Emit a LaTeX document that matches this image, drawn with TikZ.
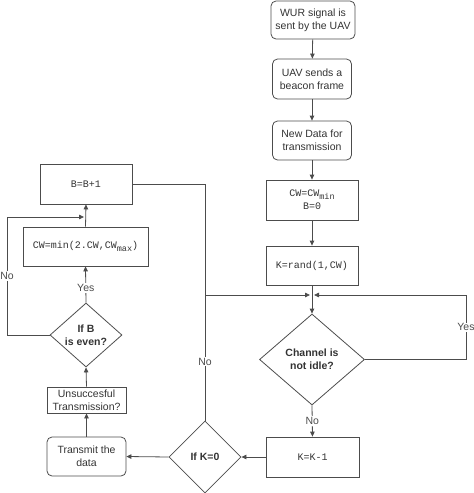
\documentclass[tikz,border=0pt]{standalone}
\usepackage{fontspec}
\setmainfont{Liberation Sans}
\setmonofont{Liberation Mono}
\usetikzlibrary{arrows.meta,shapes.geometric}
\newcommand{\mysub}[1]{\raisebox{-2.5pt}{\fontsize{8.5}{10}\selectfont #1}}
\begin{document}
\begin{tikzpicture}[x=1pt,y=-1pt,
  base/.style={draw=black!70, line width=0.8pt, align=center, inner sep=0pt, text=black!80, font=\fontsize{10.5}{13}\selectfont},
  rbox/.style={base, rounded corners=5pt},
  sbox/.style={base},
  code/.style={base, font=\fontsize{10}{13}\selectfont\ttfamily},
  dia/.style={base, diamond, font=\fontsize{10.5}{13}\selectfont\bfseries},
  conn/.style={draw=black!70, line width=0.8pt},
  arr/.style={conn, -{Triangle[length=5pt,width=4.5pt]}},
  lab/.style={fill=white, inner sep=1pt, text=black!70, font=\fontsize{10.5}{13}\selectfont}
]
\useasboundingbox (0,0) rectangle (474,493);

% right column
\node[rbox, minimum width=84pt, minimum height=38pt] (wur) at (313,20) {WUR signal is\\sent by the UAV};
\node[rbox, minimum width=79pt, minimum height=40pt] (uav) at (312,79) {UAV sends a\\beacon frame};
\node[rbox, minimum width=79pt, minimum height=39pt] (newd) at (312,140.5) {New Data for\\transmission};
\node[code, minimum width=92pt, minimum height=40pt] (cw0) at (312,200) {CW=CW\mysub{min}\\B=0};
\node[code, minimum width=92pt, minimum height=39pt] (krand) at (312,265.5) {K=rand(1,CW)};
\node[dia, minimum width=105pt, minimum height=91pt] (chan) at (312,359.5) {Channel is\\not idle?};
\node[code, minimum width=93pt, minimum height=40pt] (kk1) at (312.5,457) {K=K-1};
\node[dia, minimum width=72pt, minimum height=72pt] (ifk) at (205,457) {If K=0};

% left column
\node[rbox, minimum width=79pt, minimum height=39pt] (trans) at (86.5,456.5) {Transmit the\\data};
\node[sbox, minimum width=79pt, minimum height=26pt] (unsucc) at (86.5,400) {Unsuccesful\\Transmission?};
\node[dia, minimum width=72pt, minimum height=64pt] (ifb) at (86,335) {If B\\is even?};
\node[code, minimum width=125pt, minimum height=39pt] (cwmin) at (85.5,246.5) {CW=min(2.CW,CW\mysub{max})};
\node[code, minimum width=92pt, minimum height=40pt] (bb1) at (86,184) {B=B+1};

% helper coordinates
\coordinate (jl) at (310,295);
\coordinate (jr) at (314,295);
\coordinate (yesc) at (466,295);
\coordinate (kup) at (205,295);
\coordinate (bcorner) at (205,184);
\coordinate (nocorner) at (7,217);
\coordinate (noend) at (84,217);

% connectors
\draw[arr] (wur) -- (uav);
\draw[arr] (uav) -- (newd);
\draw[arr] (newd) -- (cw0);
\draw[arr] (cw0) -- (krand);
\draw[arr] (krand) -- (chan.north);
\draw[conn] (chan.east) -| (yesc) node[lab, pos=0.75] {Yes};
\draw[arr] (yesc) -- (jr);
\draw[arr] (chan.south) -- (kk1.north) node[lab, midway] {No};
\draw[arr] (kk1.west) -- (ifk.east);
\draw[arr] (ifk.west) -- (trans.east);
\draw[conn] (ifk.north) -- (kup) node[lab, pos=0.47] {No};
\draw[conn] (bb1.east) -- (bcorner) -- (kup);
\draw[arr] (kup) -- (jl);
\draw[arr] (trans.north) -- (unsucc.south);
\draw[arr] (unsucc.north) -- (ifb.south);
\draw[arr] (ifb.north) -- (cwmin.south) node[lab, pos=0.4] {Yes};
\draw[arr] (cwmin.north) -- (bb1.south);
\draw[conn] (ifb.west) -| (nocorner) node[lab, pos=0.75] {No};
\draw[arr] (nocorner) -- (noend);
\end{tikzpicture}
\end{document}
